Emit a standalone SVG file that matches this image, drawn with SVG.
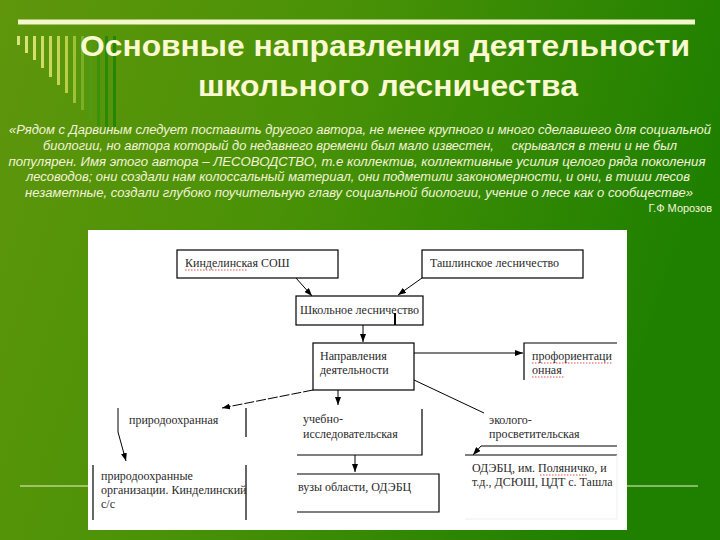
<svg xmlns="http://www.w3.org/2000/svg" width="720" height="540" viewBox="0 0 720 540">
<defs>
<linearGradient id="bg" x1="0" y1="0" x2="1" y2="0.25">
<stop offset="0" stop-color="#5f960c"/>
<stop offset="0.45" stop-color="#4a9207"/>
<stop offset="1" stop-color="#1f8000"/>
</linearGradient>
<marker id="ah" markerWidth="8" markerHeight="6" refX="8" refY="3" orient="auto" markerUnits="userSpaceOnUse">
<path d="M0,0 L8,3 L0,6 z" fill="#000"/>
</marker>
<style>
.title{font-family:"Liberation Sans",Arial,sans-serif;font-weight:bold;font-size:30px;fill:#fbf9d2}
.quote{font-family:"Liberation Sans",Arial,sans-serif;font-style:italic;font-size:12.5px;fill:#f4f3d8}
.auth{font-family:"Liberation Sans",Arial,sans-serif;font-size:11px;fill:#f4f3d8}
.t{font-family:"Liberation Serif","Times New Roman",serif;font-size:12px;fill:#2a2a2a}
.box{fill:none;stroke:#000;stroke-width:1.2}
.ln{stroke:#000;stroke-width:1.2;fill:none}
.faint{stroke:#eeeeee;stroke-width:1;fill:none}
.con{stroke:#000;stroke-width:1;fill:none}
.sp{stroke:#d22;stroke-width:0.8;fill:none;stroke-dasharray:1.5,1.5}
</style>
</defs>
<rect width="720" height="540" fill="url(#bg)"/>
<line x1="18" y1="22" x2="695" y2="22" stroke="#f4f6cc" stroke-width="5"/>
<g id="bars">
<rect x="17" y="36" width="3" height="9" fill="#d8e47c"/>
<rect x="25" y="36" width="3" height="17" fill="#d6e378"/>
<rect x="33" y="36" width="3" height="24" fill="#d2e070"/>
<rect x="41" y="36" width="3" height="32" fill="#cddd68"/>
<rect x="49" y="36" width="3" height="41" fill="#c8da5e"/>
<rect x="57" y="36" width="3" height="49" fill="#c2d654"/>
<rect x="65" y="36" width="3" height="57" fill="#b8d048"/>
<rect x="73" y="36" width="3" height="67" fill="#9cc238"/>
<rect x="81" y="36" width="3" height="74" fill="#78b026"/>
<rect x="89" y="36" width="3" height="84" fill="#4e9c14"/>
<rect x="97" y="36" width="3" height="90" fill="#3a920c"/>
<rect x="105" y="36" width="3" height="94" fill="#2a8a06"/>
<rect x="113" y="36" width="3" height="92" fill="#248604"/>
</g>
<line x1="20" y1="486" x2="698" y2="486" stroke="#eef2c8" stroke-width="1.2"/>
<text class="title" x="385" y="56" text-anchor="middle" textLength="610" lengthAdjust="spacingAndGlyphs">Основные направления деятельности</text>
<text class="title" x="388" y="96" text-anchor="middle" textLength="380" lengthAdjust="spacingAndGlyphs">школьного лесничества</text>
<g id="quote">
<text class="quote" x="360" y="134" text-anchor="middle" textLength="702" lengthAdjust="spacingAndGlyphs">«Рядом с Дарвиным следует поставить другого автора, не менее крупного и много сделавшего для социальной</text>
<text class="quote" x="360" y="150" text-anchor="middle" textLength="634" lengthAdjust="spacingAndGlyphs">биологии, но автора который до недавнего времени был мало известен, &#160;&#160;&#160;&#160;скрывался в тени и не был</text>
<text class="quote" x="357" y="166" text-anchor="middle" textLength="697" lengthAdjust="spacingAndGlyphs">популярен. Имя этого автора – ЛЕСОВОДСТВО, т.е коллектив, коллективные усилия целого ряда поколения</text>
<text class="quote" x="358" y="181" text-anchor="middle" textLength="664" lengthAdjust="spacingAndGlyphs">лесоводов; они создали нам колоссальный материал, они подметили закономерности, и они, в тиши лесов</text>
<text class="quote" x="359" y="197" text-anchor="middle" textLength="668" lengthAdjust="spacingAndGlyphs">незаметные, создали глубоко поучительную главу социальной биологии, учение о лесе как о сообществе»</text>
<text class="auth" x="712" y="212" text-anchor="end">Г.Ф Морозов</text>
</g>
<rect id="panel" x="88" y="230" width="539" height="300" fill="#ffffff"/>
<g id="n-kind">
<rect class="box" x="177" y="250" width="161" height="28"/>
<text class="t" x="185" y="267">Кинделинская СОШ</text>
<path class="sp" d="M185,270 h62"/>
</g>
<g id="n-tashl">
<rect class="box" x="422" y="250" width="161" height="28"/>
<text class="t" x="430" y="267">Ташлинское лесничество</text>
</g>
<g id="n-school">
<rect class="box" x="296" y="296" width="127" height="29"/>
<text class="t" x="300" y="314">Школьное лесничество</text>
<line x1="395" y1="313" x2="395" y2="325" stroke="#000" stroke-width="2"/>
</g>
<g id="n-napr">
<rect class="box" x="313" y="343" width="101" height="47"/>
<text class="t" x="320" y="360">Направления</text>
<text class="t" x="320" y="374">деятельности</text>
</g>
<g id="n-prof">
<path class="ln" d="M524,380 V343 H617"/>
<text class="t" x="532" y="360">профориентаци</text>
<text class="t" x="532" y="374">онная</text>
<path class="sp" d="M532,363 h80 M532,377 h33"/>
</g>
<g id="n-prirod">
<line class="ln" x1="246" y1="408" x2="246" y2="437"/>
<text class="t" x="129" y="424">природоохранная</text>
</g>
<g id="n-ucheb">
<path class="ln" d="M422,409 V455 H297"/>
<text class="t" x="303" y="423">учебно-</text>
<text class="t" x="303" y="438">исследовательская</text>
</g>
<g id="n-ekolog">
<line class="ln" x1="481" y1="446" x2="617" y2="446"/>
<text class="t" x="489" y="424">эколого-</text>
<text class="t" x="489" y="438">просветительская</text>
</g>
<g id="n-prirodorg">
<line class="ln" x1="93" y1="465" x2="93" y2="520"/>
<line class="ln" x1="246" y1="465" x2="246" y2="520"/>
<text class="t" x="101" y="480">природоохранные</text>
<text class="t" x="101" y="494">организации. Кинделинский</text>
<text class="t" x="101" y="508">с/с</text>
</g>
<g id="n-vuzy">
<path class="ln" d="M297,474 H439 V512 H297"/>
<text class="t" x="298" y="491">вузы области, ОДЭБЦ</text>
</g>
<g id="n-odebc">
<line class="ln" x1="465" y1="455" x2="617" y2="455"/>
<path class="faint" d="M617,455 V519 H465"/>
<text class="t" x="472" y="472">ОДЭБЦ, им. Поляничко, и</text>
<text class="t" x="472" y="486">т.д., ДСЮШ, ЦДТ с. Ташла</text>
<path class="sp" d="M540,475 h48"/>
</g>
<g id="connectors">
<line class="con" x1="296" y1="278" x2="312" y2="296" marker-end="url(#ah)"/>
<line class="con" x1="422" y1="278" x2="398" y2="295" marker-end="url(#ah)"/>
<line class="con" x1="363" y1="325" x2="363" y2="342" marker-end="url(#ah)"/>
<line class="con" x1="414" y1="353" x2="523" y2="353" marker-end="url(#ah)"/>
<line class="con" x1="313" y1="390" x2="222" y2="408" stroke-dasharray="10,2" marker-end="url(#ah)"/>
<line class="con" x1="338" y1="390" x2="338" y2="405" marker-end="url(#ah)"/>
<line class="con" x1="414" y1="380" x2="484" y2="413"/>
<path class="con" d="M118,408 V432 L126,461" marker-end="url(#ah)"/>
<line class="con" x1="355" y1="455" x2="355" y2="472" marker-end="url(#ah)"/>
<line class="con" x1="481" y1="446" x2="473" y2="455" marker-end="url(#ah)"/>
</g>
</svg>
